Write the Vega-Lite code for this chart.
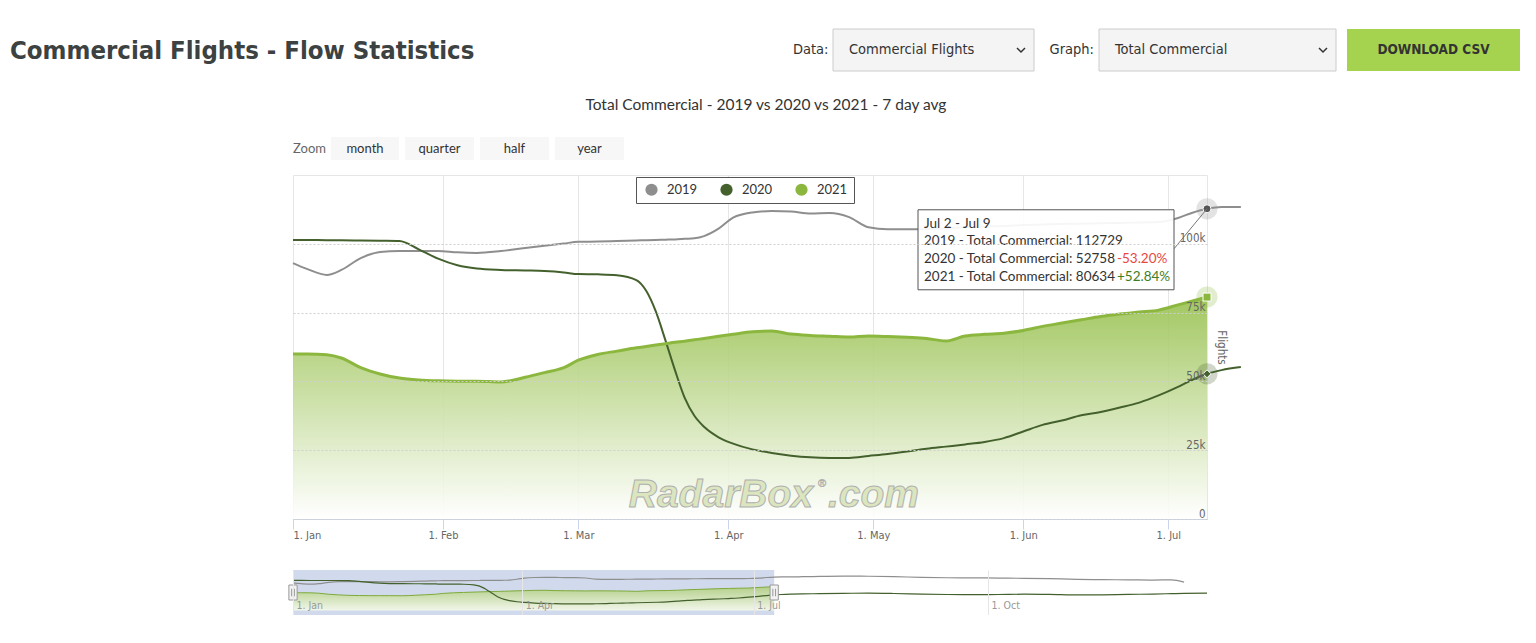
{
"$schema": "https://vega.github.io/schema/vega-lite/v6.json",
"usermeta": {"embedOptions": {"actions": false}},
"background": "#ffffff",
"padding": {"left": 10, "top": 28, "right": 0, "bottom": 0},
"config": {"view": {"stroke": null}, "font": "Lato", "title": {"fontWeight": "normal"}},
"datasets": {
"flights": [
{"date":"2021-01-01","2019":93000,"2020":101400,"2021":60000},
{"date":"2021-01-04","2019":90800,"2020":101400,"2021":60000},
{"date":"2021-01-08","2019":88700,"2020":101300,"2021":59700},
{"date":"2021-01-11","2019":90500,"2020":101300,"2021":58500},
{"date":"2021-01-15","2019":94800,"2020":101200,"2021":55000},
{"date":"2021-01-19","2019":97000,"2020":101100,"2021":52700},
{"date":"2021-01-23","2019":97400,"2020":101000,"2021":51200},
{"date":"2021-01-27","2019":97400,"2020":98000,"2021":50500},
{"date":"2021-01-31","2019":97400,"2020":94600,"2021":50200},
{"date":"2021-02-04","2019":96900,"2020":92200,"2021":50100},
{"date":"2021-02-08","2019":96700,"2020":91000,"2021":50100},
{"date":"2021-02-13","2019":97400,"2020":90500,"2021":49800},
{"date":"2021-02-18","2019":98500,"2020":90300,"2021":51500},
{"date":"2021-02-22","2019":99300,"2020":90100,"2021":53200},
{"date":"2021-02-26","2019":100100,"2020":89600,"2021":55000},
{"date":"2021-03-01","2019":100700,"2020":89000,"2021":57700},
{"date":"2021-03-05","2019":100800,"2020":88900,"2021":59800},
{"date":"2021-03-09","2019":101000,"2020":88600,"2021":61000},
{"date":"2021-03-13","2019":101200,"2020":86800,"2021":62200},
{"date":"2021-03-15","2019":101300,"2020":83000,"2021":62700},
{"date":"2021-03-17","2019":101400,"2020":75500,"2021":63200},
{"date":"2021-03-19","2019":101500,"2020":65000,"2021":63700},
{"date":"2021-03-21","2019":101600,"2020":54000,"2021":64200},
{"date":"2021-03-23","2019":101800,"2020":44000,"2021":64600},
{"date":"2021-03-25","2019":102000,"2020":37500,"2021":65100},
{"date":"2021-03-27","2019":102800,"2020":33500,"2021":65600},
{"date":"2021-03-30","2019":105500,"2020":29700,"2021":66400},
{"date":"2021-04-02","2019":109500,"2020":27400,"2021":67100},
{"date":"2021-04-06","2019":111400,"2020":25300,"2021":68000},
{"date":"2021-04-10","2019":111900,"2020":24000,"2021":68300},
{"date":"2021-04-14","2019":111700,"2020":23000,"2021":67200},
{"date":"2021-04-18","2019":111000,"2020":22400,"2021":66700},
{"date":"2021-04-22","2019":111200,"2020":22200,"2021":66400},
{"date":"2021-04-26","2019":109700,"2020":22200,"2021":66100},
{"date":"2021-04-30","2019":106000,"2020":22900,"2021":66500},
{"date":"2021-05-04","2019":105300,"2020":23600,"2021":66300},
{"date":"2021-05-08","2019":105300,"2020":24500,"2021":66000},
{"date":"2021-05-12","2019":105400,"2020":25500,"2021":65600},
{"date":"2021-05-16","2019":105600,"2020":26300,"2021":64700},
{"date":"2021-05-20","2019":106000,"2020":27100,"2021":66500},
{"date":"2021-05-24","2019":106300,"2020":28000,"2021":67100},
{"date":"2021-05-28","2019":106500,"2020":29400,"2021":67500},
{"date":"2021-06-01","2019":106800,"2020":31800,"2021":68500},
{"date":"2021-06-05","2019":107000,"2020":34200,"2021":70000},
{"date":"2021-06-09","2019":107200,"2020":35800,"2021":71200},
{"date":"2021-06-13","2019":107300,"2020":37700,"2021":72400},
{"date":"2021-06-17","2019":107500,"2020":38900,"2021":73600},
{"date":"2021-06-21","2019":107600,"2020":40500,"2021":74500},
{"date":"2021-06-25","2019":107700,"2020":42300,"2021":75200},
{"date":"2021-06-29","2019":107900,"2020":44900,"2021":75900},
{"date":"2021-07-03","2019":109400,"2020":48000,"2021":77800},
{"date":"2021-07-06","2019":111300,"2020":50600,"2021":79200},
{"date":"2021-07-09","2019":112729,"2020":52758,"2021":80634},
{"date":"2021-07-12","2019":113400,"2020":54100},
{"date":"2021-07-16","2019":113400,"2020":55200},
{"date":"2021-07-20","2019":114000,"2020":56000},
{"date":"2021-07-27","2019":115000,"2020":57000},
{"date":"2021-08-05","2019":116000,"2020":58000},
{"date":"2021-08-15","2019":115500,"2020":58500},
{"date":"2021-08-25","2019":114000,"2020":57500},
{"date":"2021-09-05","2019":112000,"2020":55500},
{"date":"2021-09-15","2019":110500,"2020":54000},
{"date":"2021-09-25","2019":110000,"2020":53500},
{"date":"2021-10-05","2019":109500,"2020":54000},
{"date":"2021-10-15","2019":108500,"2020":55000},
{"date":"2021-10-25","2019":107500,"2020":54500},
{"date":"2021-11-05","2019":105000,"2020":52500},
{"date":"2021-11-15","2019":104000,"2020":53000},
{"date":"2021-11-25","2019":103500,"2020":54500},
{"date":"2021-12-05","2019":102500,"2020":55500},
{"date":"2021-12-12","2019":103500,"2020":57000},
{"date":"2021-12-17","2019":96000,"2020":58000},
{"date":"2021-12-26","2020":58500}
]
},
"resolve": {"legend": {"color": "independent"}},
"vconcat": [
{
"hconcat": [
{"width": 823, "height": 42, "data": {"values": [{}]}, "layer": [
{"mark": {"type": "text", "text": "Commercial Flights - Flow Statistics", "align": "left", "baseline": "middle", "dx": -411.5, "dy": 1, "font": "DejaVu Sans Condensed, DejaVu Sans, sans-serif", "fontSize": 25.5, "fontWeight": "bold", "fill": "#3c4242"}},
{"mark": {"type": "text", "text": "Data:", "align": "right", "baseline": "middle", "dx": 407, "font": "DejaVu Sans Condensed, DejaVu Sans, sans-serif", "fontSize": 14.5, "fill": "#333333"}}
]},
{"width": 201, "height": 42, "data": {"values": [{}]}, "layer": [
{"mark": {"type": "rect", "fill": "#f4f4f4", "stroke": "#cccccc", "strokeWidth": 1}},
{"mark": {"type": "text", "text": "Commercial Flights", "align": "left", "baseline": "middle", "dx": -84.5, "font": "DejaVu Sans Condensed, DejaVu Sans, sans-serif", "fontSize": 14.5, "fill": "#333333"}},
{"mark": {"type": "point", "shape": "M-1,-0.5L0,0.5L1,-0.5", "filled": false, "stroke": "#333333", "strokeWidth": 1.5, "size": 64, "opacity": 1, "xOffset": 87.5}}
]},
{"width": 65, "height": 42, "data": {"values": [{}]}, "mark": {"type": "text", "text": "Graph:", "align": "right", "baseline": "middle", "dx": 27.5, "font": "DejaVu Sans Condensed, DejaVu Sans, sans-serif", "fontSize": 14.5, "fill": "#333333"}},
{"width": 237, "height": 42, "data": {"values": [{}]}, "layer": [
{"mark": {"type": "rect", "fill": "#f4f4f4", "stroke": "#cccccc", "strokeWidth": 1}},
{"mark": {"type": "text", "text": "Total Commercial", "align": "left", "baseline": "middle", "dx": -102.5, "font": "DejaVu Sans Condensed, DejaVu Sans, sans-serif", "fontSize": 14.5, "fill": "#333333"}},
{"mark": {"type": "point", "shape": "M-1,-0.5L0,0.5L1,-0.5", "filled": false, "stroke": "#333333", "strokeWidth": 1.5, "size": 64, "opacity": 1, "xOffset": 105.5}}
]},
{"width": 11, "height": 42, "data": {"values": [{}]}, "mark": {"type": "text", "text": ""}},
{"width": 173, "height": 42, "data": {"values": [{}]}, "layer": [
{"mark": {"type": "rect", "fill": "#a6d34f"}},
{"mark": {"type": "text", "text": "DOWNLOAD CSV", "align": "center", "baseline": "middle", "font": "DejaVu Sans Condensed, DejaVu Sans, sans-serif", "fontSize": 13.5, "fontWeight": "bold", "fill": "#333333"}}
]}
],
"spacing": 0,
"bounds": "flush"
},
{
"resolve": {"legend": {"color": "independent"}},
"hconcat": [
{"width": 283, "height": 10, "data": {"values": [{}]}, "mark": {"type": "text", "text": ""}},
{
"title": {"text": "Total Commercial - 2019 vs 2020 vs 2021 - 7 day avg", "font": "Lato", "fontSize": 15.5, "fontWeight": "normal", "color": "#333333", "offset": 24, "anchor": "middle"},
"resolve": {"legend": {"color": "independent"}},
"vconcat": [
{
"hconcat": [
{"width": 32, "height": 23, "data": {"values": [{}]}, "mark": {"type": "text", "text": "Zoom", "align": "left", "baseline": "middle", "dx": -16, "font": "Lato", "fontSize": 13, "fill": "#666666"}},
{"width": 68, "height": 23, "data": {"values": [{}]}, "layer": [
{"mark": {"type": "rect", "fill": "#f7f7f7"}},
{"mark": {"type": "text", "text": "month", "align": "center", "baseline": "middle", "font": "Lato", "fontSize": 13, "fill": "#333333"}}
]},
{"width": 69, "height": 23, "data": {"values": [{}]}, "layer": [
{"mark": {"type": "rect", "fill": "#f7f7f7"}},
{"mark": {"type": "text", "text": "quarter", "align": "center", "baseline": "middle", "font": "Lato", "fontSize": 13, "fill": "#333333"}}
]},
{"width": 69, "height": 23, "data": {"values": [{}]}, "layer": [
{"mark": {"type": "rect", "fill": "#f7f7f7"}},
{"mark": {"type": "text", "text": "half", "align": "center", "baseline": "middle", "font": "Lato", "fontSize": 13, "fill": "#333333"}}
]},
{"width": 69, "height": 23, "data": {"values": [{}]}, "layer": [
{"mark": {"type": "rect", "fill": "#f7f7f7"}},
{"mark": {"type": "text", "text": "year", "align": "center", "baseline": "middle", "font": "Lato", "fontSize": 13, "fill": "#333333"}}
]}
],
"spacing": 6,
"bounds": "flush"
},
{
"resolve": {"legend": {"color": "independent"}},
"vconcat": [
{
"width": 914,
"height": 344,
"view": {"stroke": "#e6e6e6"},
"data": {"name": "flights"},
"transform": [
{"fold": ["2019", "2020", "2021"], "as": ["year", "flights"]},
{"filter": "isValid(datum.flights)"},
{"filter": "time(datum.date) <= time('2021-07-16')"}
],
"layer": [
{
"transform": [{"filter": "datum.year === '2021'"}],
"mark": {"type": "area", "interpolate": "monotone", "fill": {"gradient": "linear", "x1": 0, "y1": 0, "x2": 0, "y2": 1, "stops": [{"offset": 0, "color": "#98c14f"}, {"offset": 1, "color": "#ffffff"}]}, "fillOpacity": 0.9},
"encoding": {
"x": {"field": "date", "type": "temporal", "title": null,
"scale": {"type": "utc", "domain": [{"year": 2021, "month": 1, "date": 1, "utc": true}, {"year": 2021, "month": 7, "date": 9, "utc": true}]},
"axis": {"values": [{"year": 2021, "month": 1, "date": 1, "utc": true}, {"year": 2021, "month": 2, "date": 1, "utc": true}, {"year": 2021, "month": 3, "date": 1, "utc": true}, {"year": 2021, "month": 4, "date": 1, "utc": true}, {"year": 2021, "month": 5, "date": 1, "utc": true}, {"year": 2021, "month": 6, "date": 1, "utc": true}, {"year": 2021, "month": 7, "date": 1, "utc": true}],
"format": "%-d. %b", "labelFlush": true, "labelOverlap": false, "tickSize": 10, "tickColor": "#ccd6eb", "domainColor": "#ccd6eb", "grid": true, "gridColor": "#e6e6e6", "labelColor": "#666666", "labelFont": "DejaVu Sans Condensed, DejaVu Sans, sans-serif", "labelFontSize": 11, "labelPadding": 0}},
"y": {"field": "flights", "type": "quantitative", "title": "Flights",
"scale": {"domain": [0, 125000], "nice": false},
"axis": {"orient": "right", "zindex": 1, "values": [0, 25000, 50000, 75000, 100000], "labelExpr": "datum.value === 0 ? '0' : (datum.value / 1000) + 'k'", "ticks": false, "tickSize": 0, "domain": false, "grid": true, "gridColor": "#cfcfcf", "gridDash": [2, 2], "labelAlign": "right", "labelBaseline": "bottom", "labelPadding": -2, "labelColor": "#666666", "labelFont": "DejaVu Sans Condensed, DejaVu Sans, sans-serif", "labelFontSize": 11.5, "titleColor": "#666666", "titleFont": "DejaVu Sans Condensed, DejaVu Sans, sans-serif", "titleFontSize": 11.5, "titleFontWeight": "normal", "titlePadding": 8}}
}
},
{
"transform": [{"filter": "datum.year !== '2021'"}],
"mark": {"type": "line", "interpolate": "monotone", "strokeWidth": 2},
"encoding": {
"x": {"field": "date", "type": "temporal", "title": null, "scale": {"type": "utc"}},
"y": {"field": "flights", "type": "quantitative", "title": "Flights"},
"stroke": {"field": "year", "type": "nominal", "scale": {"domain": ["2019", "2020", "2021"], "range": ["#8e8e8e", "#44612d", "#8cb73f"]}, "legend": null}
}
},
{
"transform": [{"filter": "datum.year === '2021'"}],
"mark": {"type": "line", "interpolate": "monotone", "strokeWidth": 3},
"encoding": {
"x": {"field": "date", "type": "temporal", "title": null, "scale": {"type": "utc"}},
"y": {"field": "flights", "type": "quantitative", "title": "Flights"},
"stroke": {"field": "year", "type": "nominal", "scale": {"domain": ["2019", "2020", "2021"], "range": ["#8e8e8e", "#44612d", "#8cb73f"]}, "legend": null}
}
},
{
"transform": [{"filter": "utcmonth(datum.date) === 6 && utcdate(datum.date) === 9"}],
"mark": {"type": "point", "filled": true, "size": 450, "opacity": 0.25},
"encoding": {
"x": {"field": "date", "type": "temporal", "title": null, "scale": {"type": "utc"}},
"y": {"field": "flights", "type": "quantitative", "title": "Flights"},
"color": {"field": "year", "type": "nominal", "scale": {"domain": ["2019", "2020", "2021"], "range": ["#8e8e8e", "#44612d", "#8cb73f"]},
"legend": {"orient": "none", "legendX": 343, "legendY": 2, "direction": "horizontal", "title": null, "strokeColor": "#555555", "fillColor": "#ffffff", "padding": 6, "symbolType": "circle", "symbolSize": 150, "symbolOpacity": 1, "symbolStrokeWidth": 0, "symbolOffset": 3, "labelFont": "Lato", "labelFontSize": 13, "labelColor": "#333333", "labelOffset": 9, "columnPadding": 19, "zindex": 2}}
}
},
{
"transform": [{"filter": "utcmonth(datum.date) === 6 && utcdate(datum.date) === 9"}],
"mark": {"type": "point", "filled": true, "size": 64, "opacity": 1, "stroke": "#ffffff", "strokeWidth": 1},
"encoding": {
"x": {"field": "date", "type": "temporal", "title": null, "scale": {"type": "utc"}},
"y": {"field": "flights", "type": "quantitative", "title": "Flights"},
"fill": {"field": "year", "type": "nominal", "scale": {"domain": ["2019", "2020", "2021"], "range": ["#555555", "#44612d", "#8cb73f"]}, "legend": null},
"shape": {"field": "year", "type": "nominal", "scale": {"domain": ["2019", "2020", "2021"], "range": ["circle", "diamond", "square"]}, "legend": null}
}
},
{
"transform": [{"filter": "utcmonth(datum.date) === 6 && utcdate(datum.date) === 9 && datum.year === '2019'"}],
"mark": {"type": "rule", "stroke": "#777777", "strokeWidth": 1, "xOffset": -33, "yOffset": 40},
"encoding": {
"x": {"field": "date", "type": "temporal", "title": null, "scale": {"type": "utc"}},
"y": {"field": "flights", "type": "quantitative", "title": "Flights"},
"x2": {"field": "date"},
"y2": {"field": "flights"}
}
},
{
"transform": [{"filter": "utcmonth(datum.date) === 6 && utcdate(datum.date) === 9 && datum.year === '2019'"}],
"mark": {"type": "rect", "fill": "#ffffff", "fillOpacity": 0.92, "stroke": "#555555", "strokeWidth": 1, "xOffset": -289, "x2Offset": -33, "yOffset": 1, "y2Offset": 81},
"encoding": {
"x": {"field": "date", "type": "temporal", "title": null, "scale": {"type": "utc"}},
"y": {"field": "flights", "type": "quantitative", "title": "Flights"},
"x2": {"field": "date"},
"y2": {"field": "flights"}
}
},
{
"transform": [{"filter": "utcmonth(datum.date) === 6 && utcdate(datum.date) === 9 && datum.year === '2019'"}],
"mark": {"type": "text", "align": "left", "baseline": "top", "dx": -283, "dy": 8, "lineHeight": 17.7, "font": "Lato", "fontSize": 13.5, "fill": "#333333"},
"encoding": {
"x": {"field": "date", "type": "temporal", "title": null, "scale": {"type": "utc"}},
"y": {"field": "flights", "type": "quantitative", "title": "Flights"},
"text": {"value": ["Jul 2 - Jul 9", "2019 - Total Commercial: 112729", "2020 - Total Commercial: 52758", "2021 - Total Commercial: 80634"]}
}
},
{
"transform": [{"filter": "utcmonth(datum.date) === 6 && utcdate(datum.date) === 9 && datum.year === '2019'"}],
"mark": {"type": "text", "align": "left", "baseline": "top", "dx": -90, "dy": 43.4, "font": "Lato", "fontSize": 13.5, "fill": "#e8473e"},
"encoding": {
"x": {"field": "date", "type": "temporal", "title": null, "scale": {"type": "utc"}},
"y": {"field": "flights", "type": "quantitative", "title": "Flights"},
"text": {"value": "-53.20%"}
}
},
{
"transform": [{"filter": "utcmonth(datum.date) === 6 && utcdate(datum.date) === 9 && datum.year === '2019'"}],
"mark": {"type": "text", "align": "left", "baseline": "top", "dx": -90, "dy": 61.1, "font": "Lato", "fontSize": 13.5, "fill": "#3f7d23"},
"encoding": {
"x": {"field": "date", "type": "temporal", "title": null, "scale": {"type": "utc"}},
"y": {"field": "flights", "type": "quantitative", "title": "Flights"},
"text": {"value": "+52.84%"}
}
},
{
"data": {"values": [{}]},
"mark": {"type": "text", "text": "RadarBox", "align": "right", "baseline": "middle", "dx": 63, "dy": 148, "font": "Liberation Sans, Arial, sans-serif", "fontStyle": "italic", "fontWeight": "bold", "fontSize": 39, "fill": "#dbe6bf", "stroke": "#b0b0b0", "strokeWidth": 1}
},
{
"data": {"values": [{}]},
"mark": {"type": "text", "text": "®", "align": "center", "baseline": "middle", "dx": 72, "dy": 137, "font": "Liberation Sans, Arial, sans-serif", "fontSize": 11, "fill": "#dbe6bf", "stroke": "#b0b0b0", "strokeWidth": 0.5}
},
{
"data": {"values": [{}]},
"mark": {"type": "text", "text": ".com", "align": "left", "baseline": "middle", "dx": 78, "dy": 148, "font": "Liberation Sans, Arial, sans-serif", "fontStyle": "italic", "fontWeight": "bold", "fontSize": 39, "fill": "#dbe6bf", "stroke": "#b0b0b0", "strokeWidth": 1}
}
]
},
{
"width": 914,
"height": 45,
"data": {"name": "flights"},
"transform": [
{"fold": ["2019", "2020", "2021"], "as": ["year", "flights"]},
{"filter": "isValid(datum.flights)"}
],
"layer": [
{
"transform": [{"filter": "datum.year === '2021'"}],
"mark": {"type": "area", "interpolate": "monotone", "fill": {"gradient": "linear", "x1": 0, "y1": 0, "x2": 0, "y2": 1, "stops": [{"offset": 0, "color": "#b3cf8a"}, {"offset": 1, "color": "#f2f6ea"}]}, "fillOpacity": 1},
"encoding": {
"x": {"field": "date", "type": "temporal", "title": null,
"scale": {"type": "utc", "domain": [{"year": 2021, "month": 1, "date": 1, "utc": true}, {"year": 2021, "month": 12, "date": 26, "utc": true}]},
"axis": {"zindex": 1, "values": [{"year": 2021, "month": 1, "date": 1, "utc": true}, {"year": 2021, "month": 4, "date": 1, "utc": true}, {"year": 2021, "month": 7, "date": 1, "utc": true}, {"year": 2021, "month": 10, "date": 1, "utc": true}],
"format": "%-d. %b", "ticks": false, "tickSize": 0, "domain": false, "grid": true, "gridColor": "#e6e6e6", "labelAlign": "left", "labelBaseline": "middle", "labelPadding": -10, "labelOffset": 3, "labelColor": "#999999", "labelFont": "DejaVu Sans Condensed, DejaVu Sans, sans-serif", "labelFontSize": 10.5, "labelFlush": false, "labelOverlap": false}},
"y": {"field": "flights", "type": "quantitative", "title": null, "scale": {"domain": [-15000, 136600], "nice": false, "zero": false}, "axis": null}
}
},
{
"transform": [{"filter": "datum.year === '2021'"}],
"mark": {"type": "line", "interpolate": "monotone", "stroke": "#7faa3a", "strokeWidth": 1},
"encoding": {
"x": {"field": "date", "type": "temporal", "title": null, "scale": {"type": "utc"}},
"y": {"field": "flights", "type": "quantitative", "title": null}
}
},
{
"transform": [{"filter": "datum.year !== '2021'"}],
"params": [{"name": "brush", "select": {"type": "interval", "encodings": ["x"], "mark": {"fill": "#6685c2", "fillOpacity": 0.3, "stroke": "#6685c2", "strokeOpacity": 0}}, "value": {"x": [{"year": 2021, "month": 1, "date": 1, "utc": true}, {"year": 2021, "month": 7, "date": 9, "utc": true}]}}],
"mark": {"type": "line", "interpolate": "monotone", "strokeWidth": 1.2},
"encoding": {
"x": {"field": "date", "type": "temporal", "title": null, "scale": {"type": "utc"}},
"y": {"field": "flights", "type": "quantitative", "title": null},
"stroke": {"field": "year", "type": "nominal", "scale": {"domain": ["2019", "2020", "2021"], "range": ["#8e8e8e", "#44612d", "#8cb73f"]}, "legend": null}
}
},
{
"data": {"values": [{"date": "2021-01-01"}, {"date": "2021-07-09"}]},
"mark": {"type": "point", "shape": "M-0.55,-1H0.55V1H-0.55Z M-0.18,-0.5V0.5 M0.18,-0.5V0.5", "filled": true, "size": 225, "fill": "#f2f2f2", "stroke": "#999999", "strokeWidth": 1, "opacity": 1},
"encoding": {
"x": {"field": "date", "type": "temporal", "title": null, "scale": {"type": "utc"}}
}
}
]
}
],
"spacing": 51,
"bounds": "flush"
}
],
"spacing": 14,
"bounds": "full"
}
],
"spacing": 0,
"bounds": "flush"
}
],
"spacing": 25,
"bounds": "full"
}
